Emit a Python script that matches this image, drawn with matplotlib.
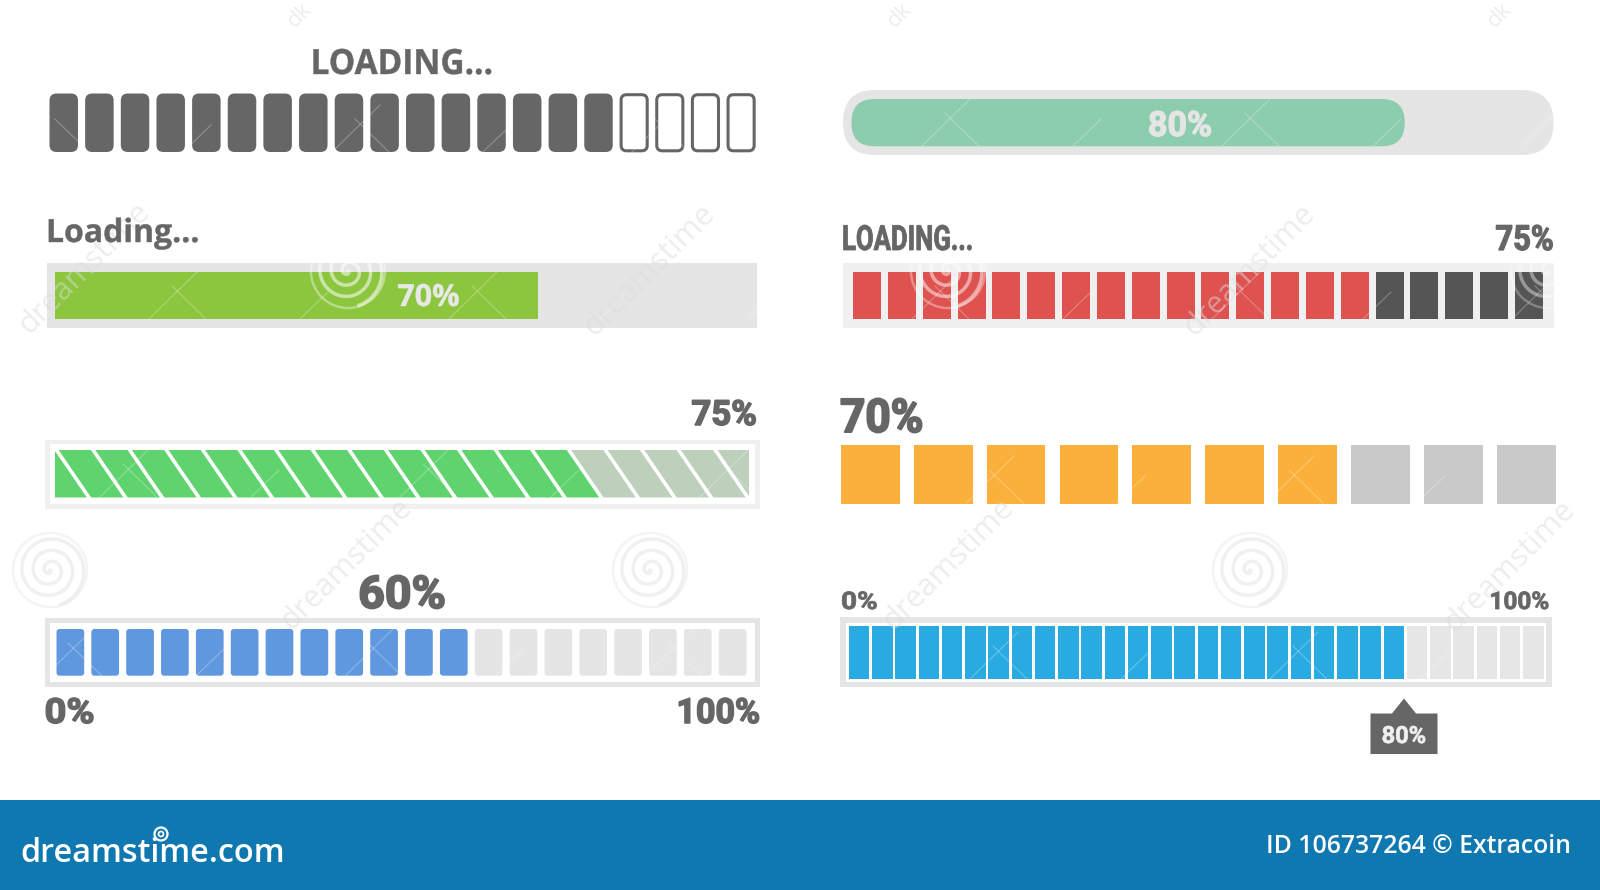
import numpy as np
import matplotlib
matplotlib.use("Agg")
import matplotlib.pyplot as plt
from matplotlib.patches import Rectangle, FancyBboxPatch, Polygon, Circle
from matplotlib.patheffects import AbstractPathEffect
from matplotlib.transforms import Affine2D

# ---- data ----
dark_total, dark_filled = 20, 16
green_pct = 70
pill_pct = 80
red_total, red_filled = 20, 15
stripe_total, stripe_filled = 20, 15
orange_total, orange_filled = 10, 7
blue_total, blue_filled = 20, 12
cyan_total, cyan_filled = 30, 24
green_label, pill_label = "70%", "80%"
red_label, stripe_label = "75%", "75%"
orange_label, blue_label = "70%", "60%"
range_labels = ["0%", "100%"]
marker_label = "80%"
title_upper = "LOADING..."
title_lower = "Loading..."
brand = "dreamstime.com"
credit = "ID 106737264 \u00a9 Extracoin"

# ---- style ----
GREY = "#666666"
TRACK = "#e5e5e5"
PALE = "#f0f0f0"
DISPLAY = ["Roboto", "DejaVu Sans"]
OPEN = ["Open Sans", "DejaVu Sans"]

fig = plt.figure(figsize=(16, 8.9), dpi=100, facecolor="white")
ax = fig.add_axes([0, 0, 1, 1])
ax.set_xlim(0, 1600)
ax.set_ylim(890, 0)
ax.axis("off")


class Squeeze(AbstractPathEffect):
    """Condense a text horizontally and thicken its strokes."""

    def __init__(self, sx, anchor, stroke):
        super().__init__()
        self.sx, self.anchor, self.stroke = sx, anchor, stroke

    def draw_path(self, renderer, gc, tpath, affine, rgbFace=None):
        w = tpath.get_extents().x1 * self.anchor
        squeezed = Affine2D().translate(-w, 0).scale(self.sx, 1).translate(w, 0) + affine
        gc0 = renderer.new_gc()
        gc0.copy_properties(gc)
        if self.stroke and rgbFace is not None:
            gc0.set_linewidth(self.stroke)
            gc0.set_foreground(rgbFace)
        renderer.draw_path(gc0, tpath, squeezed, rgbFace)
        gc0.restore()


def rect(x0, y0, x1, y1, color, z=2):
    ax.add_patch(Rectangle((x0, y0), x1 - x0, y1 - y0, fc=color, ec="none", zorder=z))


def rrect(x0, y0, x1, y1, r, fc, ec="none", lw=0, z=3):
    ax.add_patch(FancyBboxPatch((x0 + r, y0 + r), x1 - x0 - 2 * r, y1 - y0 - 2 * r,
                                boxstyle=f"round,pad={r},rounding_size={r}",
                                fc=fc, ec=ec, lw=lw, zorder=z))


def label(x, y, s, size, ha="left", color=GREY, family=DISPLAY, sx=1.0, stroke=0.9, z=6):
    t = ax.text(x, y, s, fontsize=size, ha=ha, va="baseline", color=color,
                family=family, weight="bold", zorder=z)
    t.set_path_effects([Squeeze(sx, {"left": 0, "center": 0.5, "right": 1}[ha], stroke)])


def segments(x_first, x_last_end, y0, y1, total, filled, on, off, radius=0, width=None):
    pitch = (x_last_end - x_first - width) / (total - 1)
    for i in range(total):
        x = x_first + i * pitch
        c = on if i < filled else off
        if radius:
            rrect(x, y0, x + width, y1, radius, c)
        else:
            rect(x, y0, x + width, y1, c, z=3)


def spiral(cx, cy, r, color, alpha, lw=2.5, z=5):
    t = np.linspace(0, 3.2 * 2 * np.pi, 300)
    rad = r * (t / t.max())
    ax.plot(cx + rad * np.cos(t), cy + rad * np.sin(t), color=color, alpha=alpha, lw=lw, zorder=z)
    ax.add_patch(Circle((cx, cy), r * 1.03, fc="none", ec=color, alpha=alpha * 0.7, lw=lw * 0.7, zorder=z))


def mark(x, y, text="dreamstime", color="#dcdcdc", alpha=0.5, size=22):
    ax.text(x, y, text, rotation=45, fontsize=size, color=color, alpha=alpha,
            ha="center", va="center", family="Open Sans", zorder=5, rotation_mode="anchor")


def lattice(y, offset, x_min, x_max):
    for x0 in np.arange(offset, x_max, 300):
        for (a, b, c, d) in [(0, 0, 48, -47), (23, -33, 57, 0), (151, 0, 179, -27)]:
            if x0 + a >= x_min and x0 + c <= x_max + 40:
                ax.plot([x0 + a, x0 + c], [y + b, y + d], color="white", alpha=0.28, lw=0.8, zorder=5)


# 1. rounded dark segments
label(402, 74, title_upper, 25, ha="center", family=OPEN, sx=0.96, stroke=0.3)
x_first, pitch, w = 49.5, 35.65, 28.5
for i in range(dark_total):
    x = x_first + i * pitch
    if i < dark_filled:
        rrect(x, 93.5, x + w, 152, 7, GREY)
    else:
        rrect(x + 1.2, 94.7, x + w - 1.2, 150.8, 5.5, "white", ec=GREY, lw=2.2)

# 2. green bar
label(46, 242, title_lower, 23, family=OPEN, stroke=0.3)
rect(47, 263, 757, 327.5, TRACK)
gx0, gx1 = 55, 745
rect(gx0, 272, gx0 + (gx1 - gx0) * green_pct / 100, 318.7, "#8cc63f", z=3)
label(428.5, 306, green_label, 22, ha="center", color="#e8e8e8", family=OPEN, stroke=0.3)

# 3. pill
rrect(843, 90, 1553.5, 155, 32, TRACK, z=2)
px0, px1 = 851.5, 1543
rrect(px0, 99, px0 + (px1 - px0) * pill_pct / 100, 146.3, 23, "#8ccdae", z=3)
label(1180, 136, pill_label, 25, ha="center", color="#e5e5e5", sx=0.98)

# 4. red / dark
label(842, 250, title_upper, 25, sx=0.74, stroke=0.6)
label(1554, 250, red_label, 25, ha="right", sx=0.89)
rect(843, 263, 1554, 327.5, PALE)
segments(853, 1543, 272, 318.7, red_total, red_filled, "#de5250", "#555555", width=28)

# 5. stripes
label(757, 425, stripe_label, 25, ha="right", stroke=1.1)
rect(44.5, 439.5, 759.5, 508.5, PALE)
rect(49.5, 444, 754.5, 503.5, "white", z=2.5)
sx0, sx1, sy0, sy1 = 55, 748.5, 450, 497.5
clip = Rectangle((sx0, sy0), sx1 - sx0, sy1 - sy0, transform=ax.transData)
pitch, slant, gap = 36.6, 32.5, 2.2
start = 56.5
for i in range(-1, stripe_total - 1):
    c = "#5fd36e" if i + 1 < stripe_filled else "#bdd0bc"
    a = start + i * pitch + gap
    b = start + (i + 1) * pitch - gap
    pg = Polygon([(a, sy0), (b, sy0), (b + slant, sy1), (a + slant, sy1)], fc=c, ec="none", zorder=3)
    ax.add_patch(pg)
    pg.set_clip_path(clip)

# 6. orange squares
label(840, 432, orange_label, 33.5, sx=0.95, stroke=1.4)
segments(841, 1555.5, 444.5, 503.5, orange_total, orange_filled, "#fbb03b", "#c9c9c9", width=58.7)

# 7. blue segments
label(402, 608, blue_label, 32.5, ha="center", sx=1.03, stroke=1.4)
rect(44.5, 617.5, 759.5, 686.5, TRACK)
rect(49.5, 622.5, 754.5, 681.5, "white", z=2.5)
segments(56.5, 746.5, 629, 675.7, blue_total, blue_filled, "#6098df", TRACK, radius=3, width=27.7)
label(44.5, 723, range_labels[0], 25, sx=1.1, stroke=1.1)
label(760, 723, range_labels[1], 25, ha="right", sx=0.98, stroke=1.1)

# 8. cyan segments
label(841, 609, range_labels[0], 17.5, sx=1.15, stroke=0.6)
label(1549, 609, range_labels[1], 17.5, ha="right", stroke=0.6)
rect(840, 617, 1552, 687, TRACK)
rect(846, 623, 1546, 682, "white", z=2.5)
segments(849, 1543.5, 625.7, 679, cyan_total, cyan_filled, "#29abe2", "#e6e6e6", width=20.4)
ax.add_patch(Polygon([(1370.5, 713.5), (1392, 713.5), (1404, 698.5), (1416, 713.5),
                      (1437.5, 713.5), (1437.5, 754), (1370.5, 754)], fc=GREY, ec="none", zorder=4))
label(1404, 743, marker_label, 17, ha="center", color="#f0f0f0", stroke=0.5)

# watermarks
for cx, cy, col, al in [(348, 271, "white", 0.55), (948, 271, "white", 0.5), (1548, 271, "white", 0.4),
                        (50, 570, "#e4e4e4", 0.55), (650, 570, "#e4e4e4", 0.55), (1250, 570, "#e4e4e4", 0.55)]:
    spiral(cx, cy, 36, col, al)
for x, y in [(85, 268), (650, 270), (1250, 270), (347, 564), (949, 564), (1510, 566)]:
    mark(x, y)
for x in (300, 900, 1500):
    mark(x, 15, text="dk", size=16)
for y, offset, x_min, x_max in [(152, 32, 40, 770), (319, 149, 40, 770), (497, 100, 40, 770), (676, 45, 40, 770),
                                (146, 22, 845, 1550), (319, 12, 845, 1550), (503, 66, 830, 1560), (679, 70, 845, 1550)]:
    lattice(y, offset, x_min, x_max)

# banner
rect(0, 800, 1600, 890, "#0f78b0", z=7)
ax.text(20, 862, brand, fontsize=23.3, color="white", ha="left", va="baseline",
        family=OPEN, weight="semibold", zorder=8)
ax.add_patch(Circle((161, 834), 6.5, fc="none", ec="white", lw=1.6, zorder=8))
ax.add_patch(Circle((161, 834), 2.5, fc="none", ec="white", lw=1.2, zorder=8))
ax.text(1571, 853, credit, fontsize=17.8, color="white", ha="right", va="baseline",
        family=OPEN, weight="semibold", zorder=8)

fig.savefig("out.png", dpi=100, facecolor="white")
